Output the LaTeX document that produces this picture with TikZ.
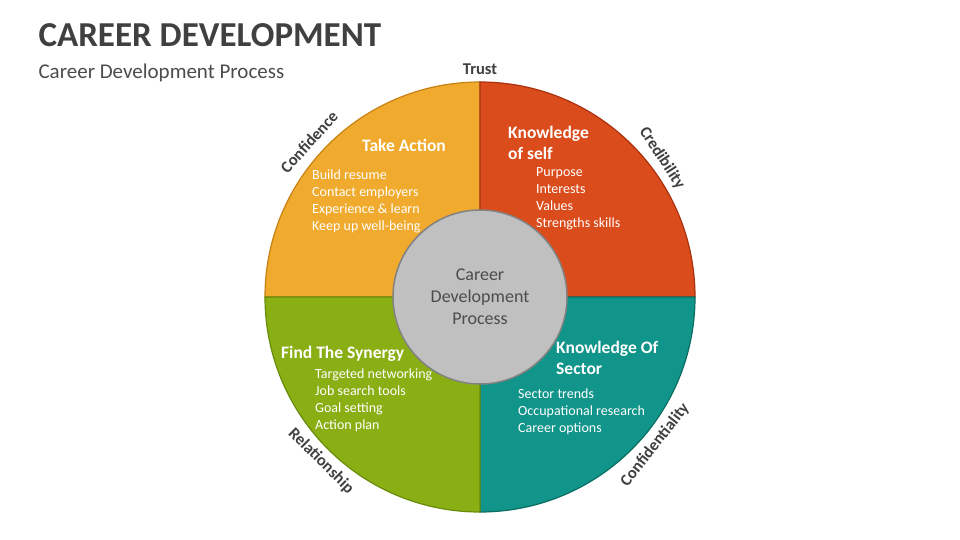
\documentclass[tikz,border=0pt]{standalone}
\usepackage{fontspec}
\setmainfont{Carlito}
\begin{document}
\begin{tikzpicture}[x=1pt,y=-1pt,
  hd/.style={text=white,font=\bfseries\fontsize{17.5}{21}\selectfont,align=left,anchor=north west,inner sep=0pt},
  it/.style={text=white,font=\fontsize{14}{17}\selectfont,align=left,anchor=north west,inner sep=0pt},
  rim/.style={text=black!75,font=\bfseries\fontsize{16.5}{18}\selectfont}]
\useasboundingbox (0,0) rectangle (960,540);
\fill[white] (0,0) rectangle (960,540);
\node[anchor=west,text=black!75,font=\bfseries\fontsize{35}{40}\selectfont] (title) at (35,35) {CAREER DEVELOPMENT};
\node[anchor=west,text=black!70,font=\fontsize{21}{24}\selectfont] (sub) at (35,73) {Career Development Process};
\coordinate (c) at (480,297);
\filldraw[fill={rgb,255:red,240;green,170;blue,45},draw={rgb,255:red,200;green,130;blue,20},line width=1.2pt] (c) -- (265,297) arc[start angle=180,end angle=270,radius=215] -- cycle;
\filldraw[fill={rgb,255:red,219;green,76;blue,28},draw={rgb,255:red,170;green,50;blue,15},line width=1.2pt] (c) -- (480,82) arc[start angle=270,end angle=360,radius=215] -- cycle;
\filldraw[fill={rgb,255:red,17;green,148;blue,138},draw={rgb,255:red,10;green,110;blue,100},line width=1.2pt] (c) -- (695,297) arc[start angle=0,end angle=90,radius=215] -- cycle;
\filldraw[fill={rgb,255:red,138;green,175;blue,20},draw={rgb,255:red,105;green,140;blue,10},line width=1.2pt] (c) -- (480,512) arc[start angle=90,end angle=180,radius=215] -- cycle;
\node[circle,minimum size=174pt,fill={rgb,255:red,192;green,192;blue,192},draw={rgb,255:red,130;green,130;blue,130},line width=1.5pt,text=black!70,font=\fontsize{18}{22}\selectfont,align=center] (core) at (c) {Career\\Development\\Process};
\node[hd] (ta) at (362,139) {Take Action};
\node[it] (tai) at (312,170) {Build resume\\Contact employers\\Experience \& learn\\Keep up well-being};
\node[hd] (ks) at (508,126) {Knowledge\\of self};
\node[it] (ksi) at (536,167) {Purpose\\Interests\\Values\\Strengths skills};
\node[hd] (fs) at (281,346) {Find The Synergy};
\node[it] (fsi) at (315,369) {Targeted networking\\Job search tools\\Goal setting\\Action plan};
\node[hd] (ko) at (556,341) {Knowledge Of\\Sector};
\node[it] (koi) at (518,389) {Sector trends\\Occupational research\\Career options};
\node[rim] (t) at (480,69) {Trust};
\node[rim,rotate=48] (cf) at (309,142) {Confidence};
\node[rim,rotate=-57] (cr) at (662,158) {Credibility};
\node[rim,rotate=-45] (rl) at (321,461) {Relationship};
\node[rim,rotate=52] (cd) at (655,445) {Confidentiality};
\end{tikzpicture}
\end{document}
